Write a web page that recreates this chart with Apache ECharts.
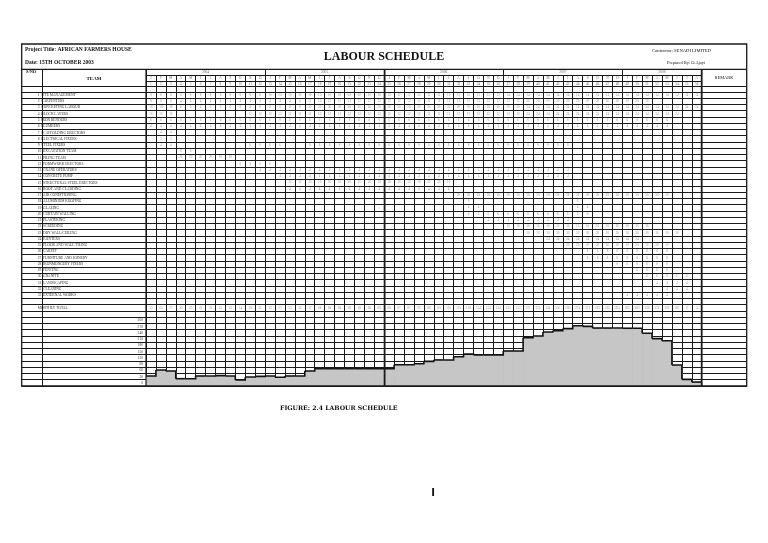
<!DOCTYPE html>
<html><head><meta charset="utf-8">
<script src="https://cdn.jsdelivr.net/npm/echarts@6/dist/echarts.min.js"></script>
<style>html,body{margin:0;padding:0;background:#fff}#c{width:768px;height:543px}</style>
</head><body><div id="c"></div>
<script>
var years = ['2004','2005','2006','2007','2008'];
var yearSpans = [12,12,12,12,8];
var monthLetters = ['J','F','M','A','M','J','J','A','S','O','N','D',
  'J','F','M','A','M','J','J','A','S','O','N','D',
  'J','F','M','A','M','J','J','A','S','O','N','D',
  'J','F','M','A','M','J','J','A','S','O','N','D',
  'J','F','M','A','M','J','J','A'];
var monthNumbers = ['1','2','3','4','5','6','7','8','9','10','11','12','13','14','15','16','17','18','19','20',
  '21','22','23','24','25','26','27','28','29','30','31','32','33','34','35','36','37','38','39','40',
  '41','42','43','44','45','46','47','48','49','50','51','52','53','54','55','56'];
var teams = ['SITE MANAGEMENT','CARPENTERS','CONCRETING LABOUR','BLOCK LAYERS','IRON BENDERS','PLUMBERS',
  'SCAFFOLDING ERECTORS','ELECTRICAL FIXERS','STEEL FIXERS','EXCAVATION TEAM','PILING TEAM',
  'FORMWORK ERECTORS','CRANE OPERATORS','CONCRETE PUMP','STRUCTURAL STEEL ERECTORS','ROOF AND CLADDING',
  'AIR CONDITIONING','ALUMINIUM ROOFING','GLAZING','CURTAIN WALLING','PLASTERING','SCREEDING',
  'DRY WALL/CEILING','PAINTERS','FLOOR AND WALL TILING','CARPET','FURNITURE AND JOINERY',
  'IRONMONGERY FIXERS','FENCING','GRANITE','LANDSCAPING','CLEANING','EXTERNAL WORKS'];
// per team: [first month index, last month index, workers]
var schedule = [
  [[0,11,8],[12,23,10],[24,35,12],[36,55,14]],
  [[0,2,8],[3,15,4],[16,37,12],[38,50,20]],
  [[0,2,18],[3,8,6],[9,15,8],[16,37,20],[38,55,24]],
  [[0,2,10],[10,37,12],[38,53,24]],
  [[0,52,6]],
  [[0,52,4]],
  [[1,2,4]],
  [[1,2,3]],
  [[1,2,4],[10,13,6],[16,42,8]],
  [[3,4,6]],
  [[3,8,20]],
  [[9,12,6]],
  [[11,42,4]],
  [[13,42,4]],
  [[14,30,10]],
  [[14,30,4]],
  [[31,52,28]],
  [[32,32,6],[43,43,6]],
  [[32,33,4],[43,44,4]],
  [[32,44,6]],
  [[34,42,4]],
  [[36,50,16]],
  [[38,53,30]],
  [[40,49,24]],
  [[42,52,20]],
  [[44,52,8]],
  [[44,52,8]],
  [[47,52,6]],
  [[49,52,6]],
  [[50,54,6]],
  [[51,54,4]],
  [[52,54,4]],
  [[48,52,4]]
];
var labourTotals = [33,62,57,20,20,33,33,35,33,14,
  28,31,33,27,33,33,57,68,68,68,
  68,68,68,68,68,87,87,92,103,110,
  110,125,138,134,134,134,153,153,217,225,
  244,250,260,274,271,263,263,263,262,262,
  238,212,202,86,17,4];
var histTicks = [0,30,60,90,120,150,180,210,240,270,300];
var totalRowLabel = 'MONTHLY TOTAL';

var ROWS = 47, TOTAL_ROW = 34;
var rowLabels = [];
for (var r = 0; r < ROWS; r++) {
  if (r < teams.length) rowLabels.push((r + 1) + '  ' + teams[r]);
  else if (r === TOTAL_ROW) rowLabels.push(totalRowLabel);
  else rowLabels.push('');
}
var rowIdx = rowLabels.map(function (_, i) { return String(i); });

var cellData = [];
schedule.forEach(function (rs, t) {
  rs.forEach(function (rg) { for (var c = rg[0]; c <= rg[1]; c++) cellData.push([c, t, rg[2]]); });
});
labourTotals.forEach(function (v, c) { cellData.push([c, TOTAL_ROW, v]); });

var headerData = [];
monthLetters.forEach(function (m, i) { headerData.push([i, 0, m]); });
monthNumbers.forEach(function (n, i) { headerData.push([i, 1, n]); });

var yearData = [];
var acc = 0;
years.forEach(function (y, i) { yearData.push([acc + yearSpans[i] / 2, 0.5, y]); acc += yearSpans[i]; });

var L = 146, R = 701.7, W = R - L;
var TT = 91.9, TB = 386;
var FL = 21.7, FR = 746.7;
var LINE = '#1a1a1a';
var serif = 'Liberation Serif';

var hid = {show: false};
function lineEl(x1, y1, x2, y2, w) {
  return {type: 'line', z: 100, shape: {x1: x1, y1: y1, x2: x2, y2: y2}, style: {stroke: LINE, lineWidth: w || 1}};
}
function textEl(x, y, t, size, weight, family, align) {
  return {type: 'text', z: 100, x: x, y: y, style: {text: t, fontSize: size, fontWeight: weight || 'normal',
    fontFamily: family || serif, fill: '#111', align: align || 'left', verticalAlign: 'middle'}};
}
function textSeries(xi, yi, data, size, color) {
  return {type: 'scatter', xAxisIndex: xi, yAxisIndex: yi, data: data, symbolSize: 1,
    itemStyle: {color: 'rgba(0,0,0,0)'}, silent: true, z: 3,
    labelLayout: {hideOverlap: false},
    label: {show: true, position: 'inside', formatter: function (p) { return String(p.value[2]); },
      fontSize: size, color: color, fontFamily: serif}};
}
var vSplit = {show: true, interval: 0, lineStyle: {color: LINE, width: 1}};

var chart = echarts.init(document.getElementById('c'));
chart.setOption({
  animation: false,
  backgroundColor: '#fff',
  grid: [
    {left: L, width: W, top: TT, height: TB - TT},            // 0 cells
    {left: FL, width: FR - FL, top: TT, height: TB - TT},     // 1 full-width rows
    {left: L, width: W, top: 75.7, height: TT - 75.7},        // 2 month header
    {left: L, width: W, top: 69.3, height: 6.4},              // 3 year header
    {left: L, width: W, top: 317.2, height: TB - 317.2}       // 4 histogram
  ],
  xAxis: [
    {gridIndex: 0, type: 'category', data: monthNumbers, axisLine: hid, axisTick: {show: false, interval: 0},
      axisLabel: {show: false, interval: 0}, splitLine: vSplit},
    {gridIndex: 1, type: 'value', min: 0, max: 1, show: false},
    {gridIndex: 2, type: 'category', data: monthNumbers, axisLine: hid, axisTick: {show: false, interval: 0},
      axisLabel: {show: false, interval: 0}, splitLine: vSplit},
    {gridIndex: 3, type: 'value', min: 0, max: 56, interval: 12, axisLine: hid, axisTick: hid, axisLabel: hid,
      splitLine: {show: true, lineStyle: {color: LINE, width: 1}}},
    {gridIndex: 4, type: 'category', data: monthNumbers, show: false}
  ],
  yAxis: [
    {gridIndex: 0, type: 'category', data: rowIdx, inverse: true, show: false},
    {gridIndex: 1, type: 'category', data: rowLabels, inverse: true, axisLine: hid, axisTick: {show: false, interval: 0},
      axisLabel: {inside: true, interval: 0, margin: 16, fontSize: 3.6, color: '#333', fontFamily: serif},
      splitLine: vSplit},
    {gridIndex: 2, type: 'category', data: ['m', 'n', 'b'], inverse: true, axisLine: hid, axisTick: {show: false, interval: 0},
      axisLabel: {show: false, interval: 0}, splitLine: vSplit},
    {gridIndex: 3, type: 'value', min: 0, max: 1, show: false},
    {gridIndex: 4, type: 'value', min: -15, max: 315, axisLine: hid, axisTick: hid, splitLine: hid,
      axisLabel: {customValues: histTicks, fontSize: 3.6, margin: 3, color: '#333', fontFamily: serif}}
  ],
  series: [
    textSeries(0, 0, cellData, 3.2, '#777'),
    textSeries(2, 2, headerData, 3.4, '#444'),
    textSeries(3, 3, yearData, 3.6, '#444'),
    {type: 'custom', xAxisIndex: 4, yAxisIndex: 4, z: 5, silent: true,
      data: labourTotals.map(function (v, i) { return [i, v]; }),
      renderItem: function (params, api) {
        var p = api.coord([api.value(0), api.value(1)]);
        var w = api.size([1, 0])[0];
        var cs = params.coordSys;
        var bottom = cs.y + cs.height;
        return {type: 'rect', shape: {x: p[0] - w / 2, y: p[1], width: w + 0.7, height: bottom - p[1]},
          style: {fill: '#c6c6c6'}};
      }},
    {type: 'custom', xAxisIndex: 4, yAxisIndex: 4, z: 6, silent: true,
      data: labourTotals.map(function (v, i) { return [i, v]; }),
      renderItem: function (params, api) {
        var i = api.value(0);
        var p = api.coord([i, api.value(1)]);
        var w = api.size([1, 0])[0];
        var x0 = p[0] - w / 2, x1 = p[0] + w / 2;
        var pts = [[x0, p[1]], [x1, p[1]]];
        if (i < labourTotals.length - 1) {
          var q = api.coord([i + 1, labourTotals[i + 1]]);
          pts.push([x1, q[1]]);
        }
        return {type: 'polyline', shape: {points: pts}, style: {stroke: '#111', lineWidth: 1.6, fill: null}};
      }}
  ],
  graphic: [
    {type: 'rect', z: 100, shape: {x: FL, y: 44, width: FR - FL, height: TB - 44}, style: {fill: null, stroke: LINE, lineWidth: 1.3}},
    lineEl(FL, 69.3, FR, 69.3, 1.2),
    lineEl(FL, 86.5, FR, 86.5, 1),
    lineEl(42.5, 69.3, 42.5, TB, 1),
    lineEl(L, 69.3, L, TB, 1.2),
    lineEl(384.6, 69.3, 384.6, TB, 1.8),
    lineEl(R, 69.3, R, TB, 1.8),
    textEl(25, 50, 'Project Title: AFRICAN FARMERS HOUSE', 5.5, 'bold'),
    textEl(25, 63, 'Date: 15TH OCTOBER 2003', 5.5, 'bold'),
    textEl(384, 57, 'LABOUR SCHEDULE', 12, 'bold', serif, 'center'),
    textEl(652, 50.5, 'Contractor: SENADI LIMITED', 4.6),
    textEl(667, 62.5, 'Prepared By: O.Ajayi', 4.4),
    textEl(26, 71.5, 'S/NO', 4.4, 'bold'),
    textEl(94, 78.5, 'TEAM', 5, 'bold', serif, 'center'),
    textEl(724, 78, 'REMARK', 4.4, 'normal', serif, 'center'),
    textEl(280, 408, 'FIGURE: 2.4 LABOUR SCHEDULE', 6.2, 'bold', 'DejaVu Serif'),
    textEl(433, 493, 'I', 10, 'bold', 'DejaVu Sans', 'center')
  ]
});
</script></body></html>
